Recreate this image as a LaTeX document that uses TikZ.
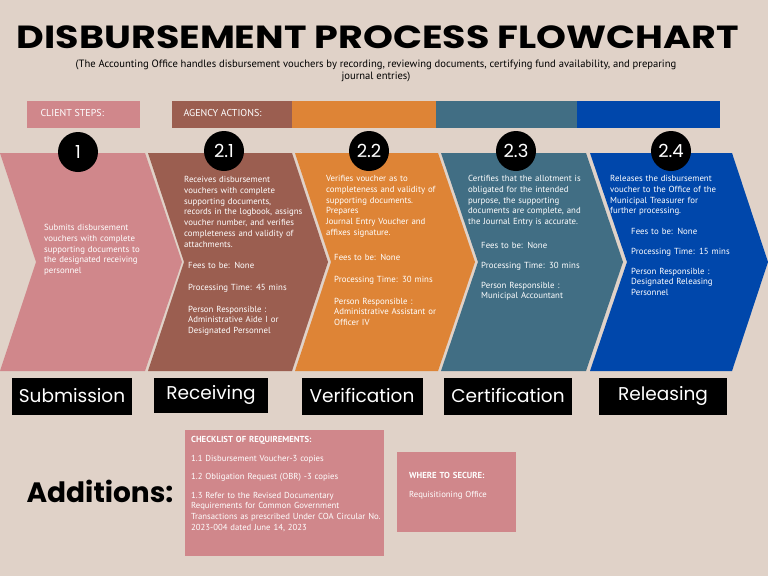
\documentclass[tikz,border=0pt]{standalone}
\usepackage{fontspec}
\setmainfont{PT Sans}
\newfontfamily\titlefont{Poppins}
\definecolor{bg}{HTML}{E0D2C8}
\definecolor{cpink}{HTML}{D0878B}
\definecolor{cbrown}{HTML}{9B5E50}
\definecolor{corange}{HTML}{DE8436}
\definecolor{cteal}{HTML}{416E84}
\definecolor{cblue}{HTML}{0047AB}
\begin{document}
\begin{tikzpicture}[x=1pt,y=-1pt,
  body/.style={anchor=north west,align=left,text=white,inner sep=0,font=\fontsize{8.8}{10.8}\selectfont},
  num/.style={circle,fill=black,minimum size=40,inner sep=0,text=white,font=\titlefont\fontsize{18}{18}\selectfont},
  lab/.style={fill=black,text=white,inner sep=0,font=\titlefont\fontsize{18.5}{19}\selectfont},
  hdr/.style={anchor=west,text=white,font=\fontsize{10}{11}\selectfont}]
\fill[bg] (0,0) rectangle (768,576);
\useasboundingbox (0,0) rectangle (768,576);
\node[inner sep=0,font=\titlefont\bfseries\fontsize{32}{33}\selectfont,xscale=1.19] (title) at (378,37) {DISBURSEMENT PROCESS FLOWCHART};
\node[inner sep=0,align=center,font=\fontsize{10.6}{11.5}\selectfont] (sub) at (376,71) {(The Accounting Office handles disbursement vouchers by recording, reviewing documents, certifying fund availability, and preparing\\journal entries)};
% header bars
\fill[cpink] (27,101) rectangle (140,128);
\node[hdr] (cs) at (37,113) {CLIENT STEPS:};
\fill[cbrown] (172,101) rectangle (292,128);
\fill[corange] (292,101) rectangle (436,128);
\fill[cteal] (436,101) rectangle (577,128);
\fill[cblue] (577,101) rectangle (720,128);
\node[hdr] (aa) at (180,113) {AGENCY ACTIONS:};
% chevrons
\fill[cpink] (0,153) -- (145,153) -- (182,262) -- (145,371) -- (0,371) -- (36,262) -- cycle;
\fill[cbrown] (148,153) -- (292,153) -- (328,262) -- (292,371) -- (148,371) -- (184,262) -- cycle;
\fill[corange] (295,153) -- (438,153) -- (475,262) -- (438,371) -- (295,371) -- (331,262) -- cycle;
\fill[cteal] (441,153) -- (586,153) -- (623,262) -- (586,371) -- (441,371) -- (478,262) -- cycle;
\fill[cblue] (590,153) -- (732,153) -- (768,262) -- (732,371) -- (590,371) -- (627,262) -- cycle;
% numbers
\node[num] (n1) at (78,152) {1};
\node[num] (n21) at (224,151) {2.1};
\node[num] (n22) at (369,151) {2.2};
\node[num] (n23) at (516,151) {2.3};
\node[num] (n24) at (671,151) {2.4};
% texts
\node[body,text width=110] (t1) at (44,224) {Submits disbursement\\vouchers with complete\\supporting documents to\\the designated receiving\\personnel};
\node[body,text width=140] (t21a) at (184,176) {Receives disbursement\\vouchers with complete\\supporting documents,\\records in the logbook, assigns\\voucher number, and verifies\\completeness and validity of\\attachments.};
\node[body,text width=130] (t21b) at (188,262) {Fees to be: None\\[11pt]Processing Time: 45 mins\\[11pt]Person Responsible :\\Administrative Aide I or\\Designated Personnel};
\node[body,text width=130] (t22a) at (326,175) {Verifies voucher as to\\completeness and validity of\\supporting documents.\\Prepares\\Journal Entry Voucher and\\affixes signature.};
\node[body,text width=130] (t22b) at (334,254) {Fees to be: None\\[11pt]Processing Time: 30 mins\\[11pt]Person Responsible :\\Administrative Assistant or\\Officer IV};
\node[body,text width=130] (t23a) at (468,175) {Certifies that the allotment is\\obligated for the intended\\purpose, the supporting\\documents are complete, and\\the Journal Entry is accurate.};
\node[body,text width=120] (t23b) at (481,242) {Fees to be: None\\[9pt]Processing Time: 30 mins\\[9pt]Person Responsible :\\Municipal Accountant};
\node[body,text width=125] (t24a) at (610,175) {Releases the disbursement\\voucher to the Office of the\\Municipal Treasurer for\\further processing.};
\node[body,text width=120] (t24b) at (631,228) {Fees to be: None\\[9pt]Processing Time: 15 mins\\[9pt]Person Responsible :\\Designated Releasing\\Personnel};
% labels
\node[lab,minimum width=120,minimum height=37] (l1) at (72,396) {Submission};
\node[lab,minimum width=114,minimum height=35] (l2) at (211,395) {Receiving};
\node[lab,minimum width=121,minimum height=37] (l3) at (362,396) {Verification};
\node[lab,minimum width=128,minimum height=37] (l4) at (508,396) {Certification};
\node[lab,minimum width=128,minimum height=37] (l5) at (663,396) {Releasing};
% additions
\node[font=\titlefont\bfseries\fontsize{28}{29}\selectfont] (add) at (100,491) {Additions:};
\fill[cpink] (185,430) rectangle (384,556);
\node[body,text width=198,font=\fontsize{8.7}{10.6}\selectfont] (chk) at (191,436) {\textbf{CHECKLIST OF REQUIREMENTS:}\\[8pt]1.1 Disbursement Voucher-3 copies\\[8pt]1.2 Obligation Request (OBR) -3 copies\\[8pt]1.3 Refer to the Revised Documentary\\Requirements for Common Government\\Transactions as prescribed Under COA Circular No.\\2023-004 dated June 14, 2023};
\fill[cpink] (397,452) rectangle (516,532);
\node[body,text width=115,font=\fontsize{8.7}{10.6}\selectfont] (ws) at (409,472) {\textbf{WHERE TO SECURE:}\\[8pt]Requisitioning Office};
\end{tikzpicture}
\end{document}
